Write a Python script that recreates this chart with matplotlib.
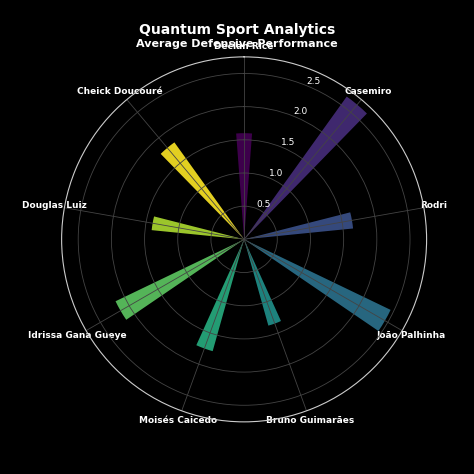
import numpy as np
import matplotlib.pyplot as plt

players = ["Declan Rice", "Casemiro", "Rodri", "João Palhinha", "Bruno Guimarães",
           "Moisés Caicedo", "Idrissa Gana Gueye", "Douglas Luiz", "Cheick Doucouré"]
values = [1.6, 2.65, 1.65, 2.45, 1.35, 1.75, 2.15, 1.4, 1.8]

n = len(players)
angles = np.linspace(0, 2 * np.pi, n, endpoint=False)
colors = plt.cm.viridis(np.linspace(0, 1, n))

fig = plt.figure(figsize=(4.74, 4.74), dpi=100, facecolor="black")
ax = fig.add_subplot(111, projection="polar", facecolor="black")
ax.set_position([0.13, 0.11, 0.77, 0.77])
ax.set_theta_zero_location("N")
ax.set_theta_direction(-1)

ax.bar(angles, values, width=0.15, color=colors, alpha=0.9)

ax.set_ylim(0, 2.75)
ax.set_xticks(angles)
ax.set_xticklabels(players, color="white", fontsize=6.5, fontweight="bold")
ax.set_yticks([0.5, 1.0, 1.5, 2.0, 2.5])
ax.set_yticklabels(["0.5", "1.0", "1.5", "2.0", "2.5"], color="white", fontsize=6.5)
ax.set_rlabel_position(22)
ax.grid(color="#444444", linewidth=0.6)
ax.spines["polar"].set_color("#cccccc")
ax.tick_params(axis="x", pad=-3)

fig.text(0.5, 0.928, "Quantum Sport Analytics", ha="center", color="white",
         fontsize=10, fontweight="bold")
fig.text(0.5, 0.9, "Average Defensive Performance", ha="center", color="white",
         fontsize=8, fontweight="bold")

fig.savefig("out.png", dpi=100, facecolor="black")
